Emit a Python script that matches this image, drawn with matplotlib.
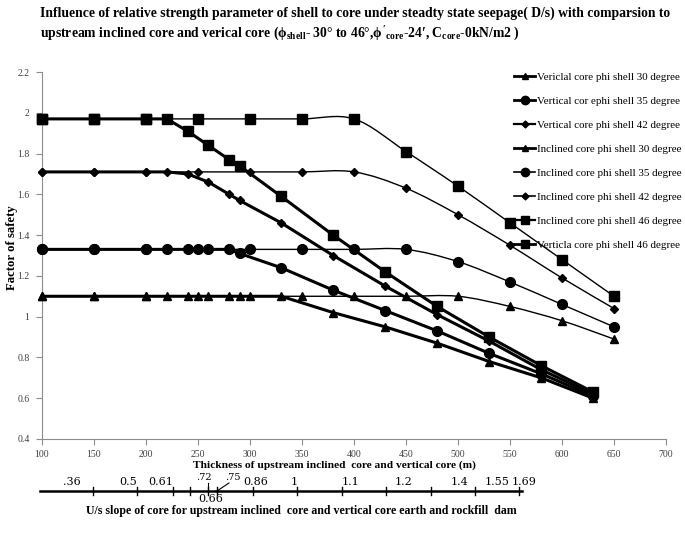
import numpy as np
import matplotlib
matplotlib.use("Agg")
import matplotlib.pyplot as plt
from matplotlib.path import Path
from matplotlib.patches import PathPatch
from matplotlib.lines import Line2D

# данные: толщина ядра (м) и коэффициент запаса
thick_x = [100, 150, 200, 220, 240, 260, 280, 290, 330, 380, 430, 480, 530, 580, 630]
thin_x = [100, 150, 200, 250, 300, 350, 400, 450, 500, 550, 600, 650]

vert_30 = [1.10, 1.10, 1.10, 1.10, 1.10, 1.10, 1.10, 1.10, 1.10, 1.02, 0.95, 0.87, 0.78, 0.70, 0.60]
vert_35 = [1.33, 1.33, 1.33, 1.33, 1.33, 1.33, 1.33, 1.31, 1.24, 1.13, 1.03, 0.93, 0.82, 0.72, 0.61]
vert_42 = [1.71, 1.71, 1.71, 1.71, 1.70, 1.66, 1.60, 1.57, 1.46, 1.30, 1.15, 1.01, 0.88, 0.74, 0.62]
vert_46 = [1.97, 1.97, 1.97, 1.97, 1.91, 1.84, 1.77, 1.74, 1.59, 1.40, 1.22, 1.05, 0.90, 0.76, 0.63]

incl_30 = [1.10, 1.10, 1.10, 1.10, 1.10, 1.10, 1.10, 1.10, 1.10, 1.05, 0.98, 0.89]
incl_35 = [1.33, 1.33, 1.33, 1.33, 1.33, 1.33, 1.33, 1.33, 1.27, 1.17, 1.06, 0.95]
incl_42 = [1.71, 1.71, 1.71, 1.71, 1.71, 1.71, 1.71, 1.63, 1.50, 1.35, 1.19, 1.04]
incl_46 = [1.97, 1.97, 1.97, 1.97, 1.97, 1.97, 1.97, 1.81, 1.64, 1.46, 1.28, 1.10]

labels = ["Vericlal core phi shell 30 degree",
          "Vertical cor ephi shell 35 degree",
          "Vertical core phi shell 42 degree",
          "Inclined core phi shell 30 degree",
          "Inclined core phi shell 35 degree",
          "Inclined core phi shell 42 degree",
          "Inclined core phi shell 46 degree",
          "Verticla core phi shell 46 degree"]

x_ticks = [100, 150, 200, 250, 300, 350, 400, 450, 500, 550, 600, 650, 700]
y_ticks = [0.4, 0.6, 0.8, 1.0, 1.2, 1.4, 1.6, 1.8, 2.0, 2.2]
y_tick_labels = ["0.4", "0.6", "0.8", "1", "1.2", "1.4", "1.6", "1.8", "2", "2.2"]

# нижняя шкала уклонов
slope_labels = [".36", "0.5", "0.61", "0.66", ".72", ".75", "0.86", "1", "1.1", "1.2", "1.4", "1.55", "1.69"]

SERIF = ["Liberation Serif", "DejaVu Serif"]
plt.rcParams['font.family'] = SERIF
plt.rcParams['mathtext.fontset'] = 'custom'
plt.rcParams['mathtext.rm'] = 'Liberation Serif:bold'
plt.rcParams['mathtext.it'] = 'Liberation Serif:bold'
plt.rcParams['mathtext.bf'] = 'Liberation Serif:bold'

W, H = 685, 533


def fx(px):
    return px / W


def fy(py):
    return 1 - py / H


def smooth_path(xs, ys):
    """Сглаженная линия как в Excel (кривые Безье по точкам)"""
    pts = np.column_stack([xs, ys]).astype(float)
    n = len(pts)
    verts = [pts[0]]
    codes = [Path.MOVETO]
    for i in range(n - 1):
        p0 = pts[i - 1] if i > 0 else pts[i]
        p1 = pts[i]
        p2 = pts[i + 1]
        p3 = pts[i + 2] if i + 2 < n else pts[i + 1]
        c1 = p1 + (p2 - p0) / 6.0
        c2 = p2 - (p3 - p1) / 6.0
        verts += [c1, c2, p2]
        codes += [Path.CURVE4] * 3
    return Path(verts, codes)


fig = plt.figure(figsize=(W / 100, H / 100), dpi=100)
ax = fig.add_axes([fx(42), fy(439), fx(666) - fx(42), fy(72) - fy(439)])

thin_lw = 1.0
thick_lw = 2.2

thin_series = [(incl_30, '^', 5.5), (incl_35, 'o', 7), (incl_42, 'D', 4), (incl_46, 's', 7)]
for ys, mk, ms in thin_series:
    ax.add_patch(PathPatch(smooth_path(thin_x, ys), fill=False, lw=thin_lw, edgecolor='black', zorder=2))
    ax.plot(thin_x, ys, linestyle='none', marker=mk, ms=ms, color='black', zorder=3, clip_on=False)

thick_series = [(vert_30, '^', 5.5), (vert_35, 'o', 7), (vert_42, 'D', 4), (vert_46, 's', 7)]
for ys, mk, ms in thick_series:
    ax.plot(thick_x, ys, linestyle='-', lw=thick_lw, marker=mk, ms=ms, color='black', zorder=4, clip_on=False)

ax.set_xlim(100, 700)
ax.set_ylim(0.4, 2.2)
ax.set_xticks(x_ticks)
ax.set_xticklabels([str(v) for v in x_ticks])
ax.set_yticks(y_ticks)
ax.set_yticklabels(y_tick_labels)
for s in ['top', 'right']:
    ax.spines[s].set_visible(False)
for s in ['left', 'bottom']:
    ax.spines[s].set_color('#8c8c8c')
    ax.spines[s].set_linewidth(0.8)
ax.tick_params(direction='out', length=4, width=0.8, color='#8c8c8c', labelsize=7, labelcolor='#404040', pad=5)
ax.tick_params(axis='x', pad=4)

# подпись оси Y
fig.text(fx(12), fy(248), "Factor of safety", rotation=90, fontsize=9.2, fontweight='bold',
         ha='center', va='center')

# легенда
handles = [Line2D([], [], color='black', lw=2.0, marker='^', ms=5),
           Line2D([], [], color='black', lw=2.0, marker='o', ms=6),
           Line2D([], [], color='black', lw=1.6, marker='D', ms=3.5),
           Line2D([], [], color='black', lw=2.0, marker='^', ms=5),
           Line2D([], [], color='black', lw=1.2, marker='o', ms=6),
           Line2D([], [], color='black', lw=1.2, marker='D', ms=3.5),
           Line2D([], [], color='black', lw=1.6, marker='s', ms=6),
           Line2D([], [], color='black', lw=2.0, marker='s', ms=6)]
fig.legend(handles, labels, loc='upper left', bbox_to_anchor=(fx(510), fy(68)),
           frameon=False, fontsize=7.9, handlelength=1.9, handletextpad=0.2,
           labelspacing=1.3, borderaxespad=0)

# заголовок
fig.text(fx(40), fy(7), "Influence of relative strength parameter of shell to core under steadty state seepage( D/s) with comparsion to",
         fontsize=9.8, fontweight='bold', ha='left', va='top')
fig.text(fx(40), fy(25),
         r"upstream inclined core and verical core ($\phi_{\mathrm{shell}}$- 30° to 46°,$\phi'_{\mathrm{core}}$-24′, C$_{\mathrm{core}}$-0kN/m2 )",
         fontsize=9.8, fontweight='bold', ha='left', va='top')

fig.text(fx(334), fy(465), "Thickness of upstream inclined  core and vertical core (m)",
         fontsize=8.2, fontweight='bold', ha='center', va='center')

# шкала уклонов (отдельная ось в пикселях)
ov = fig.add_axes([0, 0, 1, 1])
ov.set_xlim(0, W)
ov.set_ylim(H, 0)
ov.axis('off')

slope_tick_px = [93, 137, 173, 190, 208, 217, 253, 297, 342, 386, 431, 475, 519]
slope_text_px = [72, 128, 161, 211, 204, 233, 256, 294, 351, 404, 460, 497, 524]
line_y = 491
ov.plot([40, 522], [line_y, line_y], color='black', lw=1.8)
for xp in slope_tick_px:
    ov.plot([xp, xp], [line_y - 4, line_y + 4], color='black', lw=1.0)
for lab, xp, tp in zip(slope_labels, slope_text_px, slope_tick_px):
    if lab == "0.66":
        ov.text(xp, line_y + 8, lab, fontsize=8, ha='center', va='center', family=["DejaVu Serif"])
    elif lab in (".72", ".75"):
        ov.text(xp, line_y - 13, lab, fontsize=7, ha='center', va='center', family=["DejaVu Serif"])
        ov.plot([xp + (4 if lab == ".72" else -4), tp], [line_y - 8, line_y], color='black', lw=0.8)
    else:
        ov.text(xp, line_y - 9, lab, fontsize=8, ha='center', va='center', family=["DejaVu Serif"])

fig.text(fx(301), fy(511), "U/s slope of core for upstream inclined  core and vertical core earth and rockfill  dam",
         fontsize=8.6, fontweight='bold', ha='center', va='center')

fig.savefig("out.png", dpi=100)
